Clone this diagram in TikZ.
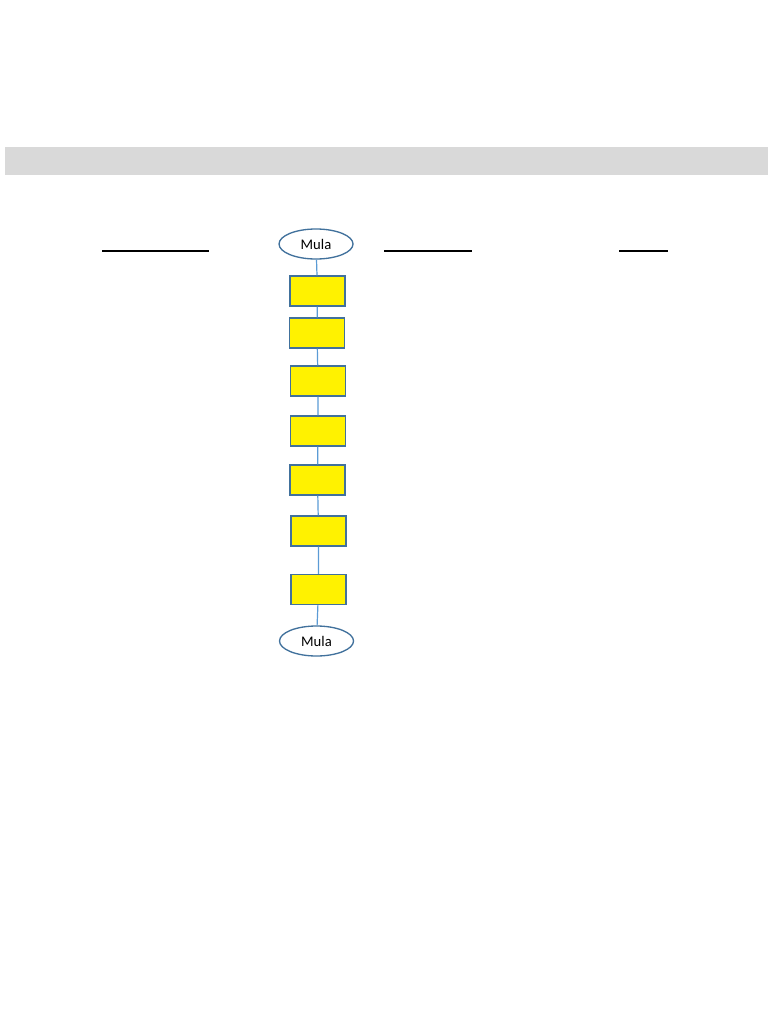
\documentclass[tikz,border=0pt]{standalone}
\usepackage{fontspec}
\setmainfont{Carlito}
\usepackage{xcolor}
\usetikzlibrary{shapes.geometric,positioning}

\definecolor{barGray}{HTML}{D9D9D9}
\definecolor{edgeBlue}{HTML}{41719C}
\definecolor{linkBlue}{HTML}{5B9BD5}

\tikzset{
	ujung/.style={ellipse, draw=edgeBlue, line width=1pt, fill=white, minimum width=55.5pt, minimum height=22.5pt, inner sep=0pt, font=\fontsize{11}{13}\selectfont},
	kotak/.style={rectangle, draw=edgeBlue, line width=0.9pt, fill=yellow, minimum width=41.25pt, minimum height=22.5pt, inner sep=0pt},
	sambung/.style={draw=linkBlue, line width=0.9pt}
}

\begin{document}
\begin{tikzpicture}[x=0.75pt,y=-0.75pt]
			\useasboundingbox (0,0) rectangle (768,1024);
			\fill[barGray] (5,147) rectangle (768,175);

			\draw[line width=0.9pt] (102,251) -- (209,251);
			\draw[line width=0.9pt] (384,251) -- (472,251);
			\draw[line width=0.9pt] (619,251) -- (668,251);

			\node[ujung] (mula1) at (316,244) {Mula};
			\node[kotak] (k1) at (317.5,291) {};
			\node[kotak] (k2) at (317,333) {};
			\node[kotak] (k3) at (318,381) {};
			\node[kotak] (k4) at (318,431) {};
			\node[kotak] (k5) at (317.5,480) {};
			\node[kotak] (k6) at (318.5,531) {};
			\node[kotak] (k7) at (318.5,589.5) {};
			\node[ujung] (mula2) at (316.5,641) {Mula};

			\draw[sambung] (mula1) -- (k1) -- (k2) -- (k3) -- (k4) -- (k5) -- (k6) -- (k7) -- (mula2);

		\end{tikzpicture}
\end{document}
